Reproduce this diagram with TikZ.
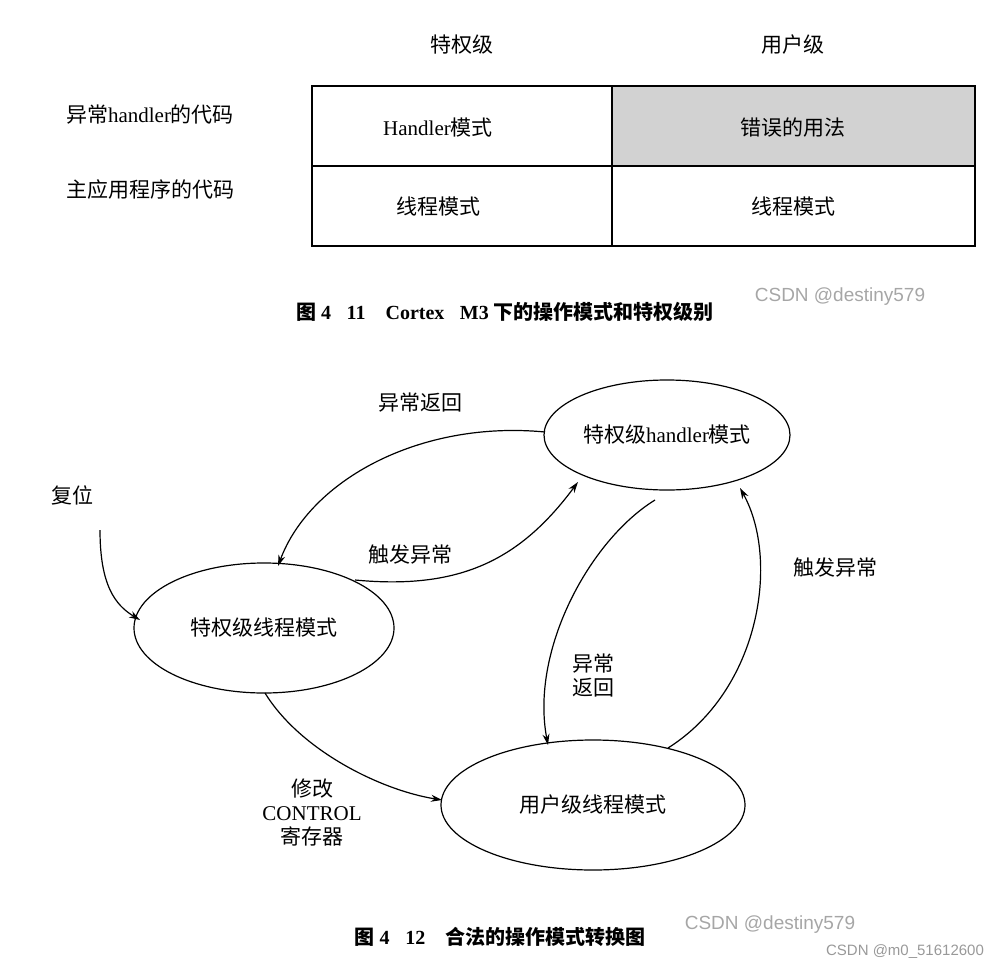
\documentclass[tikz,border=0pt]{standalone}
\usepackage{fontspec}
\setmainfont{Liberation Serif}
\newfontfamily\cjk{Noto Sans CJK SC}
\newfontfamily\wm{Liberation Sans}
\usetikzlibrary{arrows.meta}
\begin{document}
\begin{tikzpicture}[x=1pt,y=-1pt,
  lbl/.style={font=\fontsize{21}{24}\selectfont},
  captext/.style={font=\fontsize{20}{24}\selectfont\bfseries},
  wmk/.style={font=\wm\fontsize{19}{22}\selectfont,text=gray!70},
  st/.style={draw,line width=1.2pt},
  arr/.style={line width=1.2pt,-{Stealth[length=11pt,width=7pt]}}]
\useasboundingbox (0,0) rectangle (995,971);
\fill[gray!35] (612,86) rectangle (975,166);
\draw[line width=1.2pt] (312,86) rectangle (975,246);
\draw[line width=1.2pt] (612,86) -- (612,246) (312,166) -- (975,166);
\node[lbl] (h1) at (462,45) {\cjk 特权级};
\node[lbl] (h2) at (793,45) {\cjk 用户级};
\node[lbl] (r1) at (150,115) {{\cjk 异常}handler{\cjk 的代码}};
\node[lbl] (r2) at (150,190) {\cjk 主应用程序的代码};
\node[lbl] (c11) at (438,128) {Handler{\cjk 模式}};
\node[lbl] (c12) at (793,128) {\cjk 错误的用法};
\node[lbl] (c21) at (438,207) {\cjk 线程模式};
\node[lbl] (c22) at (793,207) {\cjk 线程模式};
\node[captext] (cap1) at (505,312) {{\cjk 图} 4－11\quad Cortex－M3 {\cjk 下的操作模式和特权级别}};
\node[wmk] (w1) at (840,297) {CSDN @destiny579};

\draw[st] (667,435) ellipse [x radius=123, y radius=55];
\node[lbl] (H) at (667,435) {{\cjk 特权级}handler{\cjk 模式}};
\draw[st] (264,628) ellipse [x radius=130, y radius=65];
\node[lbl] (P) at (264,628) {\cjk 特权级线程模式};
\draw[st] (593,805) ellipse [x radius=152, y radius=65];
\node[lbl] (U) at (593,805) {\cjk 用户级线程模式};

\coordinate (a1) at (545,432); \coordinate (a2) at (278,566);
\draw[arr] (a1) .. controls (420,420) and (310,480) .. (a2);
\node[lbl] (l1) at (420,403) {\cjk 异常返回};
\coordinate (b1) at (355,580); \coordinate (b2) at (578,482);
\draw[arr] (b1) .. controls (460,590) and (520,560) .. (b2);
\node[lbl] (l2) at (410,555) {\cjk 触发异常};
\node[lbl] (rst) at (72,495) {\cjk 复位};
\coordinate (c1) at (100,530); \coordinate (c2) at (140,620);
\draw[arr] (c1) .. controls (100,585) and (115,605) .. (c2);
\coordinate (d1) at (265,693); \coordinate (d2) at (442,800);
\draw[arr] (d1) .. controls (300,750) and (380,790) .. (d2);
\node[lbl,align=center] (l3) at (312,812) {{\cjk 修改}\\CONTROL\\{\cjk 寄存器}};
\coordinate (e1) at (655,500); \coordinate (e2) at (548,745);
\draw[arr] (e1) .. controls (590,540) and (530,650) .. (e2);
\node[lbl,align=center] (l4) at (593,675) {{\cjk 异常}\\{\cjk 返回}};
\coordinate (f1) at (668,748); \coordinate (f2) at (740,488);
\draw[arr] (f1) .. controls (760,690) and (780,560) .. (f2);
\node[lbl] (l5) at (835,568) {\cjk 触发异常};
\node[captext] (cap2) at (500,937) {{\cjk 图} 4－12\quad {\cjk 合法的操作模式转换图}};
\node[wmk] (w2) at (770,925) {CSDN @destiny579};
\node[wmk,font=\wm\fontsize{15}{18}\selectfont,text=gray!80] (w3) at (905,952) {CSDN @m0\_51612600};
\end{tikzpicture}
\end{document}
